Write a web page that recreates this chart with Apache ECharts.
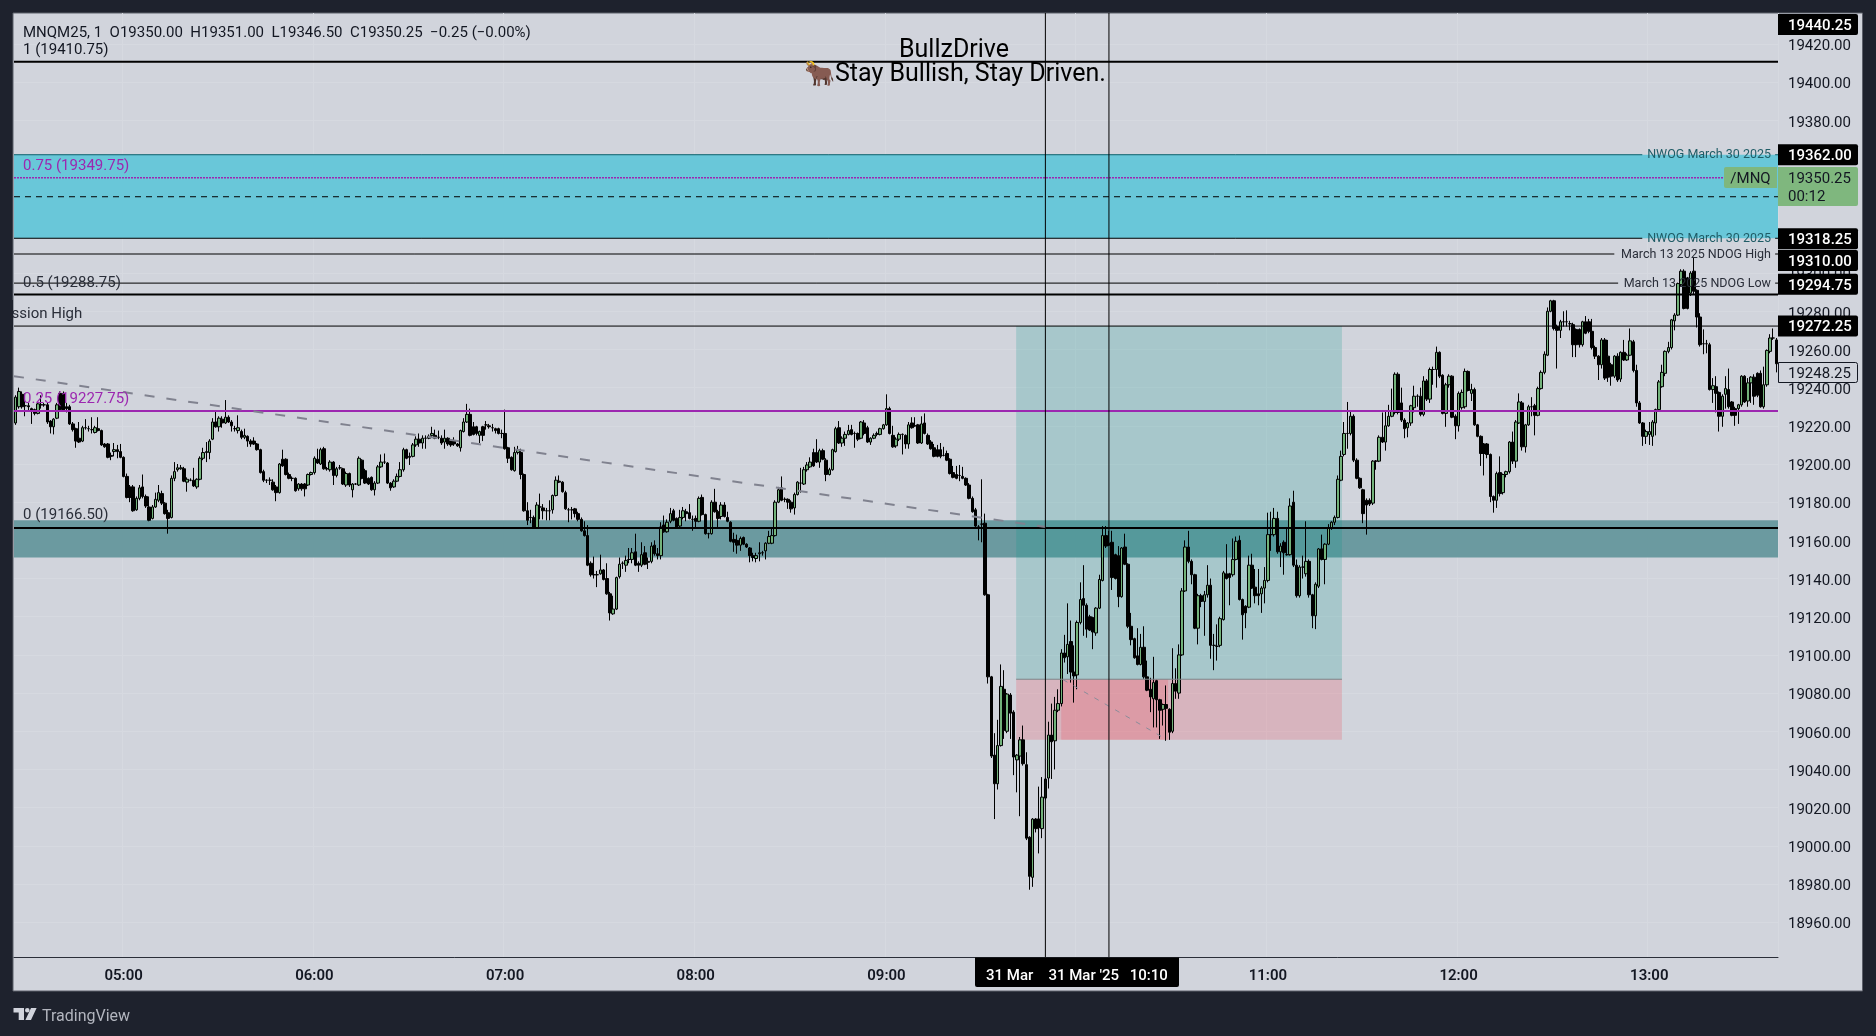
<!DOCTYPE html>
<html>
<head>
<meta charset="utf-8">
<title>MNQM25 1m</title>
<style>html,body{margin:0;padding:0;background:#1e222d}#chart{width:1876px;height:1036px}</style>
<script src="https://cdn.jsdelivr.net/npm/echarts@6/dist/echarts.min.js"></script>
</head>
<body>
<div id="chart"></div>
<script>
// 1 minute bars, [open, close, low, high]
const bars0426 = [
[19221.5,19235,19220.5,19236],[19230,19238,19229,19240],[19236.5,19230,19229,19238],[19230.5,19230.5,19225,19237],[19230.5,19230,19227.5,19232],
[19229,19227.5,19221,19229.5],[19228.5,19226.5,19225.5,19229],[19226.5,19231.5,19226,19232],[19231,19231,19229,19236],[19231,19231,19230,19232],
[19231,19222,19221,19232],[19222.5,19219.5,19216,19223],[19219.5,19223.5,19215.5,19224],[19224,19231,19223.5,19232],[19237,19228.5,19228,19238],
[19237,19228,19227.5,19238],[19230,19229,19227,19232],[19230,19221,19220.5,19231],[19221,19218,19217,19222],[19218.5,19212,19208.5,19219],
[19213.5,19211.5,19211,19222],[19212,19219,19211.5,19220],[19219,19219,19218,19223.5],[19218.5,19218.5,19217,19220],[19218,19218,19216,19224.5],
[19216.5,19219,19216,19220],[19218.5,19217.5,19217,19224.5],[19217.5,19210,19209.5,19218],[19210.5,19209,19208.5,19211],[19210.5,19203.5,19203,19211],
[19204.5,19204,19202,19206],[19206.5,19207.5,19204,19211],[19207.5,19206.5,19203,19210],[19206.5,19203.5,19203,19210.5]
];
const bars0500 = [
[19203.5,19193.5,19193,19204],[19193.5,19182.5,19182,19195],[19188,19182.5,19180,19189],[19188,19175.5,19175,19189],[19176,19182,19175.5,19183],
[19182,19187.5,19181,19189],[19188,19183,19182,19194.5],[19183,19178,19177,19184],[19177.5,19170.5,19170,19183],[19171.5,19177.5,19171,19178.5],
[19177.5,19181.5,19177,19185],[19181,19185,19180,19189],[19184.5,19179.5,19178.5,19186],[19179.5,19174,19173.5,19180],[19174.5,19171.5,19163.5,19176],
[19172,19192.5,19171.5,19194],[19192.5,19196,19191,19201],[19197,19198,19196,19200],[19197.5,19198,19197,19199.5],[19197.5,19191,19190.5,19198.5],
[19190.5,19192,19185.5,19193],[19191.5,19191.5,19191,19192.5],[19191.5,19188.5,19188,19198],[19188,19192,19187,19192.5],[19192,19203,19191.5,19204],
[19203,19206,19202,19208.5],[19206,19206.5,19201,19211.5],[19206,19212,19202.5,19213],[19213,19222,19212.5,19224],[19222,19219.5,19219,19227.5],
[19219.5,19224,19217,19225],[19223.5,19221.5,19219,19225],[19221.5,19224.5,19221,19233.5],[19224.5,19222,19221.5,19225.5],[19222,19220,19217,19223],
[19218.5,19218.5,19217,19220],[19217.5,19219,19216,19225.5],[19217,19214,19213,19218],[19214,19215,19213,19218.5],[19214.5,19212,19209,19215],
[19212,19210.5,19209,19213],[19212,19210.5,19210,19214],[19210.5,19207.5,19207,19211],[19207.5,19195.5,19195,19208],[19196,19191.5,19190.5,19197],
[19191.5,19191.5,19190,19192],[19191.5,19191.5,19189,19193],[19190.5,19186.5,19186,19192],[19188,19185,19180.5,19189],[19185,19200,19184.5,19200.5],
[19202.5,19199,19198.5,19207.5],[19202.5,19194.5,19194,19203],[19194.5,19192.5,19192,19195.5],[19192.5,19192.5,19191,19193.5],[19192.5,19186,19185.5,19193],
[19187,19189.5,19186,19190],[19189.5,19187,19186,19190],[19189.5,19187,19183,19190],[19189,19194.5,19188.5,19195],[19194.5,19195.5,19194,19196]
];
const bars0600 = [
[19195.5,19203,19194.5,19204],[19202.5,19200.5,19200,19208],[19200,19207.5,19199.5,19208.5],[19208,19197.5,19197,19209],[19197.5,19197.5,19196.5,19198.5],
[19197,19201,19196,19202],[19201,19194,19189,19201.5],[19194,19197.5,19193,19198.5],[19198,19198,19197,19199.5],[19197.5,19189.5,19189,19198],
[19189,19195,19188,19196],[19195,19189,19188,19195.5],[19186.5,19189.5,19182.5,19190],[19189.5,19189.5,19189,19190],[19189,19203,19188.5,19204],
[19202,19192.5,19192,19202.5],[19196.5,19190,19189.5,19197.5],[19192.5,19189.5,19189,19193],[19193,19186.5,19186,19193.5],[19186.5,19190,19183.5,19191],
[19190,19198.5,19189.5,19199.5],[19198.5,19201,19198,19205],[19201,19201,19200,19205.5],[19200.5,19190,19189.5,19201],[19190,19187.5,19186,19190.5],
[19188,19191,19187.5,19192],[19191,19193.5,19190.5,19195],[19193.5,19197,19193,19201],[19197,19207.5,19196,19208.5],[19207.5,19203,19202.5,19208],
[19204,19203.5,19199.5,19206],[19204,19210,19203.5,19211],[19210,19213,19209,19214.5],[19213,19211,19209,19216],[19211,19213.5,19208,19215],
[19213.5,19213.5,19208,19215],[19213.5,19214.5,19213,19215.5],[19215,19216,19214,19219.5],[19215,19213.5,19213,19218],[19214,19214,19213,19217.5],
[19213.5,19211,19210,19215],[19211.5,19213.5,19208,19218],[19213.5,19210.5,19209.5,19214],[19212.5,19210,19209,19213],[19212,19210.5,19209.5,19214],
[19210.5,19209.5,19209,19211],[19208.5,19217.5,19206.5,19218],[19217,19222,19216.5,19224],[19222,19226,19221.5,19231.5],[19226,19215,19214.5,19229],
[19219.5,19215.5,19215,19222],[19219.5,19216,19215,19220],[19215,19217,19211,19217.5],[19219.5,19215,19212,19220],[19220.5,19220.5,19218,19222.5],
[19220,19219.5,19218.5,19221],[19219,19219,19217,19221],[19218.5,19217.5,19216,19219],[19218.5,19216,19215.5,19219],[19216,19216,19213.5,19218]
];
const bars0700 = [
[19216,19208,19207.5,19228.5],[19208.5,19203,19200.5,19209],[19203.5,19197,19196.5,19204],[19196.5,19206,19196,19209],[19206,19207.5,19205,19209.5],
[19206,19194.5,19192,19208],[19194.5,19175.5,19175,19195],[19175.5,19170.5,19168,19180],[19172,19172,19169,19176],[19172,19166.5,19166,19173],
[19166.5,19178.5,19166,19180],[19177.5,19177.5,19171,19184.5],[19177,19175.5,19171,19179],[19175.5,19175.5,19170.5,19177],[19175.5,19175.5,19170.5,19181],
[19176,19183.5,19174,19184],[19183.5,19191.5,19183,19193.5],[19191,19190.5,19190,19194],[19190.5,19185.5,19185,19191],[19185,19176.5,19176,19186],
[19176,19176,19169.5,19177],[19176,19176,19171,19177.5],[19176.5,19174,19172,19177],[19174,19171,19170,19175],[19171,19165,19164.5,19172],
[19165,19162.5,19162,19170],[19162.5,19147,19146.5,19168],[19148,19142,19141,19149],[19142,19142,19140,19151.5],[19142,19142,19135.5,19144],
[19142.5,19144.5,19142,19152.5],[19144.5,19139.5,19139,19145],[19140,19132,19131.5,19148],[19132,19122,19118,19133],[19121.5,19124,19121,19131],
[19124,19140.5,19123.5,19141],[19141,19147.5,19140,19151],[19148,19148,19145,19149],[19147,19149.5,19143.5,19152],[19150,19150,19148,19156],
[19150,19153.5,19148,19156],[19154,19147,19146.5,19163.5],[19148,19147,19143.5,19149],[19147,19152.5,19146,19159],[19153.5,19147.5,19147,19157],
[19148.5,19149,19145,19151],[19149,19157,19148,19159],[19157.5,19153,19152,19160],[19153,19152,19150,19156],[19152,19167,19150,19169.5],
[19168,19164.5,19164,19173],[19164.5,19169.5,19164,19171],[19170,19174,19169,19177],[19175.5,19170.5,19170,19176.5],[19171.5,19167,19166,19172],
[19167.5,19172,19167,19176],[19172,19175.5,19171,19177.5],[19175,19174,19170,19176.5],[19174.5,19171.5,19171,19179],[19171,19171,19165,19173]
];
const bars0800 = [
[19171.5,19170,19166,19173],[19170,19182,19169.5,19183],[19182.5,19173.5,19173,19184],[19173.5,19163.5,19163,19174],[19163.5,19163.5,19161,19164],
[19163.5,19180,19163,19181],[19180,19175,19174.5,19187],[19175,19171.5,19167,19176],[19172.5,19178.5,19171,19180],[19178.5,19172.5,19172,19180],
[19172,19170,19169.5,19175],[19169.5,19159.5,19159,19170],[19160.5,19159,19154,19164],[19160,19157.5,19153,19163],[19157.5,19161,19154.5,19162],
[19161.5,19158,19157.5,19162],[19158,19156.5,19156,19158.5],[19156,19152,19148.5,19156.5],[19152,19151,19149,19153.5],[19150.5,19152,19148.5,19153.5],
[19153,19153.5,19149,19159],[19153.5,19153.5,19152,19154.5],[19154.5,19158.5,19150,19159],[19158.5,19162,19158,19165],[19158.5,19162.5,19158,19166],
[19162.5,19180,19162,19181],[19180,19186.5,19179.5,19188],[19187.5,19181,19180.5,19193.5],[19181.5,19181.5,19180,19182.5],[19181.5,19180,19176.5,19182],
[19180,19176.5,19174.5,19181],[19177,19184,19173.5,19185],[19184,19190.5,19183.5,19191],[19190,19190,19185,19198],[19189.5,19197,19189,19198.5],
[19197,19199.5,19196,19201],[19198.5,19201,19198,19203.5],[19206,19199,19198.5,19208],[19206,19201,19200.5,19213],[19201,19207,19198,19208],
[19207,19202.5,19202,19208],[19202,19194.5,19191,19203],[19194.5,19197,19194,19198],[19197,19207.5,19196.5,19208],[19206.5,19218.5,19206,19219.5],
[19219,19211,19210.5,19222.5],[19211,19213.5,19209,19214.5],[19213.5,19215.5,19209.5,19217],[19215.5,19217.5,19215,19220.5],[19218,19215.5,19215,19220.5],
[19216,19216,19208.5,19217],[19216,19213,19212,19216.5],[19213.5,19222,19213,19222.5],[19221.5,19216,19215,19223],[19219,19211.5,19211,19220],
[19211.5,19213.5,19210,19214],[19213.5,19215,19213,19216],[19215.5,19216,19214.5,19217],[19215.5,19218.5,19215,19219],[19218.5,19220.5,19218,19221]
];
const bars0900 = [
[19220.5,19229,19220,19236.5],[19229,19216,19215.5,19230],[19215,19209,19208.5,19220],[19209.5,19213,19208.5,19214],[19213,19215.5,19212,19216.5],
[19215.5,19215.5,19205,19216],[19215,19210.5,19208,19215.5],[19210.5,19220.5,19208,19222],[19221.5,19219,19218.5,19224.5],[19220,19220,19219.5,19224.5],
[19220.5,19211,19210.5,19221],[19211,19221,19210.5,19225],[19221.5,19216,19215.5,19226.5],[19215,19210.5,19210,19216],[19211.5,19208,19207.5,19212.5],
[19208.5,19204,19203.5,19210.5],[19207.5,19204,19203.5,19210],[19207.5,19204,19203,19211],[19204.5,19204.5,19204,19209],[19205.5,19202,19201.5,19207],
[19202.5,19195,19194.5,19203],[19195.5,19193,19192.5,19199],[19194.5,19192.5,19192,19199],[19194,19194,19191,19199.5],[19193.5,19192.5,19192,19198.5],
[19192.5,19189,19188.5,19193],[19189,19182,19181.5,19190],[19182,19175,19174.5,19183],[19176,19167.5,19167,19177],[19167,19167,19160,19168],
[19168.5,19168.5,19159,19192],[19169,19131.5,19131,19174],[19131.5,19088.5,19085,19132],[19088.5,19047,19046,19089],[19047.5,19032.5,19014,19059],
[19032.5,19052.5,19029.5,19066],[19052.5,19083.5,19052,19095],[19082,19060.5,19056,19092],[19060,19079.5,19059,19080],[19079,19069.5,19056,19080],
[19070,19046.5,19037,19071],[19045,19047.5,19028,19048],[19047,19055.5,19015.5,19057],[19055.5,19043,19042,19063],[19042.5,19004,19003,19049],
[19004.5,18984,18977,19005],[18983.5,19014,18978.5,19014.5],[19014,19009,19007,19014.5],[19014,19009.5,18996,19031],[19009,19025.5,19004,19036],
[19025,19035,19024,19035.5],[19035.5,19058,19030,19065],[19058,19054.5,19035,19074.5],[19055,19071,19040,19078],[19071,19074.5,19070,19082],
[19074.5,19101,19073,19103],[19101,19098.5,19096,19110.5],[19099,19105.5,19090,19127],[19107,19091,19085.5,19118],[19091,19089,19075,19105]
];
const bars1000 = [
[19089.5,19117,19082,19118],[19117,19129,19116,19138],[19129.5,19126,19110,19147],[19126,19113.5,19109,19127],[19120,19113,19112.5,19121],
[19119.5,19112,19103,19120],[19111.5,19124.5,19110,19125],[19124.5,19139.5,19124,19142],[19139,19162.5,19138.5,19167.5],[19162.5,19157,19156,19167.5],
[19158.5,19157.5,19157,19165],[19159,19140.5,19134,19165],[19152.5,19140,19139.5,19153],[19152,19130.5,19125,19157],[19130.5,19156,19130,19156.5],
[19156.5,19147.5,19147,19163.5],[19147.5,19115,19114,19148],[19115,19108,19105,19122],[19108.5,19098.5,19098,19109],[19099.5,19095,19094.5,19114],
[19095,19104,19094.5,19111],[19104,19088.5,19087.5,19115],[19088.5,19081.5,19081,19097],[19082,19078,19070,19088],[19077,19085.5,19062,19099],
[19086.5,19076.5,19062,19087],[19076.5,19071,19056,19077],[19071.5,19074,19063,19074.5],[19074,19072,19055,19084],[19071.5,19059.5,19055.5,19072],
[19060,19085,19059,19103.5],[19085,19081,19077,19093],[19080,19100,19077,19105.5],[19100,19133.5,19099.5,19135],[19133.5,19156.5,19133,19160],
[19156.5,19149,19148,19165],[19149,19142,19137,19150],[19142,19114,19113.5,19142.5],[19114,19131,19105.5,19132],[19131,19128,19125,19132],
[19128,19131.5,19110,19133.5],[19131.5,19136.5,19130,19147],[19136.5,19105,19098,19140],[19105,19105,19092,19111],[19104.5,19104.5,19097,19116],
[19105,19119,19104,19120],[19118.5,19143,19118,19144],[19142.5,19140,19139.5,19158],[19142.5,19140.5,19126,19143],[19142,19150,19141,19161],
[19150,19159.5,19149.5,19162],[19160,19129,19128.5,19162.5],[19129,19121,19108,19129.5],[19125.5,19122,19114,19126],[19125,19147,19124.5,19152],
[19147,19135,19134.5,19153],[19135.5,19131,19127,19145],[19132,19131,19126,19145],[19132,19135,19122,19136],[19135,19139,19127,19146]
];
const bars1100 = [
[19139,19163,19138,19174.5],[19163,19163,19154.5,19175],[19163,19171.5,19162,19177],[19171.5,19154,19153,19175],[19154,19157,19146,19158.5],
[19159,19153.5,19142,19160],[19152.5,19152.5,19152,19167],[19152.5,19178,19152,19182],[19180,19147,19146,19186],[19147,19131,19130,19150],
[19131,19146,19130,19147],[19146,19146,19140,19152],[19142.5,19149,19141,19170],[19149,19131.5,19130,19150],[19131.5,19120.5,19114,19132],
[19120.5,19137,19113.5,19138],[19136,19155.5,19135,19156],[19155.5,19150,19149.5,19163],[19150,19158,19137,19158.5],[19158,19166.5,19157.5,19168.5],
[19166.5,19169.5,19165.5,19170],[19169.5,19172,19168,19173],[19172,19192,19171.5,19194],[19191.5,19204,19191,19207],[19205,19216,19204,19222],
[19216,19216,19208,19232.5],[19216,19225,19215,19228],[19225,19202,19201,19226],[19202,19192.5,19192,19203],[19192.5,19187.5,19187,19193],
[19186.5,19174,19169,19187],[19181,19178.5,19163,19182],[19181,19179,19178,19182],[19179.5,19201.5,19178.5,19202],[19201.5,19201.5,19197,19202],
[19201.5,19214,19201,19215],[19214,19211.5,19211,19227],[19211.5,19220,19207,19228],[19220,19225,19219.5,19231],[19225,19227.5,19224.5,19239.5],
[19227,19247,19226,19248],[19247,19227,19226,19248],[19232,19223,19222,19240],[19223,19218.5,19213.5,19224],[19219,19221.5,19214,19222],
[19221.5,19230.5,19220,19231],[19229.5,19235.5,19227,19241],[19235.5,19235.5,19230,19236.5],[19235.5,19226,19225,19240],[19226,19243.5,19225,19246],
[19243.5,19234,19233,19244.5],[19234,19249.5,19232,19250.5],[19249.5,19249.5,19241.5,19251],[19249.5,19258.5,19240,19261.5],[19258.5,19246,19245,19259],
[19246.5,19226.5,19226,19247],[19226.5,19241.5,19219.5,19242.5],[19241.5,19246,19240,19247],[19246,19224.5,19224,19246.5],[19225,19220,19213,19226]
];
const bars1200 = [
[19220,19237,19217,19238],[19229.5,19237.5,19228.5,19239],[19230,19248.5,19229,19250],[19248.5,19238.5,19238,19249],[19237,19239,19233,19242],
[19239,19220.5,19220,19240],[19220.5,19214.5,19214,19221],[19214.5,19205.5,19199,19215],[19210.5,19205.5,19194,19211],[19210.5,19205,19203,19211],
[19205,19183,19180,19205.5],[19183,19181,19174.5,19183.5],[19181,19195,19177,19196],[19195.5,19184.5,19183,19204],[19185,19194.5,19184,19195],
[19194.5,19196,19193,19196.5],[19196,19211.5,19195,19212],[19211.5,19201.5,19200,19217],[19201.5,19222,19198,19223],[19221.5,19232.5,19221,19237],
[19232,19209,19207,19233],[19209,19220.5,19206,19221],[19220.5,19230,19220,19231],[19230,19230,19225,19235],[19230.5,19225.5,19215,19231.5],
[19225.5,19239.5,19225,19240.5],[19239.5,19248,19239,19249],[19248,19257.5,19247,19259],[19257,19280,19256.5,19282],[19280,19285.5,19279.5,19286],
[19285.5,19271,19270,19286],[19272,19270,19250,19273],[19270,19274.5,19266,19275.5],[19274.5,19274.5,19272,19280],[19274.5,19274.5,19272,19280.5],
[19273.5,19273.5,19270,19275],[19273,19262.5,19256,19274],[19270.5,19262.5,19256,19271],[19270.5,19262.5,19261,19271],[19262.5,19274.5,19261.5,19275],
[19274.5,19268.5,19268,19277.5],[19274.5,19269.5,19268.5,19276],[19269.5,19261,19260,19276],[19261,19256.5,19255,19262],[19256.5,19252,19244,19257],
[19252,19265,19250,19266],[19265,19245,19244,19266],[19256.5,19245.5,19243,19265],[19252,19246,19241,19253],[19246,19256.5,19245,19257],
[19256.5,19244,19243,19258],[19244.5,19258.5,19243,19259],[19258.5,19254.5,19254,19265],[19254.5,19257,19254,19258],[19257,19264.5,19256.5,19271],
[19264,19249,19248,19265],[19249,19232,19230,19252],[19232,19221.5,19221,19233],[19221.5,19214.5,19209.5,19222],[19214.5,19217,19210.5,19218]
];
const bars1300 = [
[19215.5,19217,19210,19222],[19214.5,19222,19209.5,19223],[19221.5,19228.5,19215,19229],[19228.5,19243,19227.5,19244],[19240.5,19248,19240,19252],
[19247.5,19259,19246,19259.5],[19259,19261,19258,19264],[19261,19275.5,19260,19276],[19275,19278,19270,19279],[19278,19294.5,19277.5,19295],
[19294,19301,19293,19302],[19301,19281.5,19281,19302],[19297.5,19281.5,19281,19298],[19289.5,19300,19288,19301],[19301,19290.5,19289,19308.5],
[19291,19277,19271.5,19291.5],[19277,19262.5,19261.5,19279],[19263,19263,19257.5,19270.5],[19263,19263,19258,19265],[19262.5,19239,19238.5,19263.5],
[19239,19241,19232,19245],[19240.5,19237,19227,19246],[19237.5,19225,19217,19238],[19225,19235.5,19219.5,19236.5],[19236.5,19239.5,19229,19246],
[19239,19230,19229,19250],[19232.5,19225.5,19225,19233],[19229,19225.5,19220,19230],[19229,19231,19221,19231.5],[19231,19246,19230,19246.5],
[19246,19232.5,19232,19246.5],[19233,19242.5,19230,19245],[19242.5,19245.5,19232,19246],[19245.5,19235.5,19231,19247],[19247.5,19236,19235,19248],
[19247.5,19230,19229.5,19249],[19230,19241.5,19229,19251],[19241.5,19259.5,19240.5,19260],[19259,19266,19258,19268],[19266,19266,19265,19271],
[19265,19252.5,19248,19266]
];
const candleBars = [...bars0426, ...bars0500, ...bars0600, ...bars0700, ...bars0800, ...bars0900, ...bars1000, ...bars1100, ...bars1200, ...bars1300];

const firstMinute = 4 * 60 + 26;
const pad = n => String(n).padStart(2, '0');
const timeLabels = candleBars.map((_, i) => {
  const m = firstMinute + i;
  return pad(Math.floor(m / 60)) + ':' + pad(m % 60);
});
const isHour = (i) => (firstMinute + i) % 60 === 0;
const priceTicks = [18960, 18980, 19000, 19020, 19040, 19060, 19080, 19100, 19120, 19140, 19160, 19180, 19200, 19220, 19240, 19260, 19280, 19300, 19320, 19340, 19360, 19380, 19400, 19420];

const PRICE_MIN = 18941.75, PRICE_MAX = 19436.25;
const X0 = -0.5, X1 = 554.5;

// [x from, x to, top price, bottom price]
const bandRows = [
  [X0, X1, 19362, 19318.25],
  [X0, X1, 19170.5, 19151],
  [314.8, 417.3, 19272.25, 19087.25],
  [314.8, 417.3, 19087.25, 19055.5],
  [329, 362.6, 19087.25, 19055.5]
];
const bandColors = ['#69c7d9', '#6b9aa0', 'rgba(0,150,136,0.2)', 'rgba(242,54,69,0.2)', 'rgba(242,54,69,0.2)'];

// [x from, x to, price, color, width, line type]
const levelRows = [
  [X0, X1, 19410.75, '#000', 2, 'solid'],
  [X0, 511.8, 19362, '#0b5f6b', 1, 'solid'],
  [553.6, X1, 19362, '#0b5f6b', 1, 'solid'],
  [X0, X1, 19350, '#9c27b0', 1.5, [2, 1]],
  [X0, X1, 19340, '#000', 1, [6, 5]],
  [X0, 511.8, 19318.25, '#000', 1, 'solid'],
  [553.6, X1, 19318.25, '#000', 1, 'solid'],
  [X0, 503, 19310, '#000', 1, 'solid'],
  [553.6, X1, 19310, '#000', 1, 'solid'],
  [X0, 504.2, 19294.75, '#000', 1, 'solid'],
  [553.6, X1, 19294.75, '#000', 1, 'solid'],
  [X0, X1, 19288.75, '#000', 2, 'solid'],
  [X0, X1, 19272.25, '#000', 1, 'solid'],
  [X0, X1, 19227.75, '#9c27b0', 2, 'solid'],
  [X0, X1, 19166.5, '#000', 2, 'solid'],
  [314.8, 417.3, 19087.25, '#7f8488', 1, 'solid']
];
const crosshairIndex = [324, 344];
const trendA = [[X0, 19246], [324, 19167]];
const trendB = [[329.6, 19087], [362.3, 19055.5]];

const FONT = 'Roboto, sans-serif';
const chart = echarts.init(document.getElementById('chart'));

const lineSeries = (data, color, width, type, z) => ({
  type: 'line', xAxisIndex: 1, yAxisIndex: 0, data, symbol: 'none', silent: true, animation: false, z,
  lineStyle: { color, width, type }
});

chart.setOption({
  animation: false,
  backgroundColor: '#1e222d',
  grid: { left: 14, right: 98, top: 13, bottom: 79, containLabel: false },
  xAxis: [
    {
      type: 'category', data: timeLabels, boundaryGap: true,
      axisLine: { show: true, onZero: false, lineStyle: { color: '#2a2e39', width: 1 } },
      axisTick: { show: false },
      axisLabel: { interval: (i) => isHour(i), color: '#131722', fontFamily: FONT, fontSize: 15, fontWeight: 600, margin: 12, hideOverlap: false },
      splitLine: { show: true, interval: (i) => isHour(i), lineStyle: { color: '#d6d9e0', width: 1 } }
    },
    { type: 'value', min: X0, max: X1, show: false, splitLine: { show: false } }
  ],
  yAxis: {
    type: 'value', position: 'right', min: PRICE_MIN, max: PRICE_MAX, scale: true,
    axisLine: { show: false },
    axisTick: { show: false, customValues: priceTicks },
    axisLabel: {
      customValues: priceTicks, margin: 10,
      formatter: (v) => '{p|' + v.toFixed(2) + '}',
      rich: { p: { color: '#131722', fontFamily: FONT, fontSize: 15, padding: [5, 0, 0, 0] } }
    },
    splitLine: { show: true, lineStyle: { color: '#d6d9e0', width: 1 } }
  },
  series: [
    {
      type: 'custom', xAxisIndex: 1, yAxisIndex: 0, silent: true, z: 1, data: bandRows,
      encode: { x: [0, 1], y: [2, 3] },
      renderItem: (params, api) => {
        const a = api.coord([api.value(0), api.value(2)]);
        const b = api.coord([api.value(1), api.value(3)]);
        return { type: 'rect', shape: { x: a[0], y: a[1], width: b[0] - a[0], height: b[1] - a[1] }, style: { fill: bandColors[params.dataIndex] } };
      }
    },
    {
      type: 'candlestick', xAxisIndex: 0, yAxisIndex: 0, data: candleBars, z: 3, barWidth: 3, silent: true,
      itemStyle: { color: '#72b27a', color0: '#000000', borderColor: '#000000', borderColor0: '#000000', borderWidth: 1 }
    },
    ...levelRows.map(r => lineSeries([[r[0], r[2]], [r[1], r[2]]], r[3], r[4], r[5], 4)),
    lineSeries(trendA, '#80828f', 2, [10, 12], 4),
    lineSeries(trendB, '#8a8c9a', 1, [5, 7], 4),
    ...crosshairIndex.map(i => lineSeries([[i, PRICE_MIN], [i, PRICE_MAX]], '#000', 1, 'solid', 5))
  ]
});

// y is the visual middle of the text, Roboto sits a little high on a middle baseline
const txt = (x, y, text, color, size, extra) => ({
  type: 'text', x, y: y + 1.5, z: 110, silent: true,
  style: Object.assign({ text, fill: color, fontSize: size, fontFamily: FONT, textVerticalAlign: 'middle' }, extra || {})
});
const rect = (x, y, w, h, fill, r, z, stroke) => ({
  type: 'rect', shape: { x, y, width: w, height: h, r: r || 0 }, z: z || 100, silent: true,
  style: { fill, stroke: stroke || null, lineWidth: stroke ? 1 : 0 }
});
const priceY = (p) => chart.convertToPixel({ yAxisIndex: 0 }, p);
const blackTag = (y, text) => [
  rect(1778, y - 10.5, 80, 21, '#000', [0, 2, 2, 0]),
  txt(1788, y, text, '#fff', 15, { fontWeight: 500 })
];
const elements = [
  rect(13, 13, 1849.5, 978, '#d1d4dc', 0, -1, '#5d606b'),
  txt(23, 31.5, 'MNQM25, 1  O19350.00  H19351.00  L19346.50  C19350.25  \u22120.25 (\u22120.00%)', '#131722', 15),
  txt(23, 48.5, '1 (19410.75)', '#131722', 15),
  txt(23, 164.5, '0.75 (19349.75)', '#9c27b0', 15),
  txt(23, 281.5, '0.5 (19288.75)', '#2a2e39', 15),
  txt(11.5, 312.5, 'ssion High', '#2a2e39', 15),
  rect(0, 300, 13, 30, '#1e222d', 0, 115),
  txt(23, 397.5, '0.25 (19227.75)', '#9c27b0', 15),
  txt(23, 514, '0 (19166.50)', '#2a2e39', 15),
  txt(954, 49, 'BullzDrive', '#000', 25, { textAlign: 'center' }),
  txt(835, 73, 'Stay Bullish, Stay Driven.', '#000', 25),
  txt(803.5, 74, '\uD83D\uDC02', '#9a5b45', 25),
  txt(1771, 153, 'NWOG March 30 2025', '#1f5c66', 12.5, { textAlign: 'right' }),
  txt(1771, 237, 'NWOG March 30 2025', '#1f5c66', 12.5, { textAlign: 'right' }),
  txt(1771, 253.5, 'March 13 2025 NDOG High', '#2a2e39', 12.5, { textAlign: 'right' }),
  txt(1771, 282.5, 'March 13 2025 NDOG Low', '#2a2e39', 12.5, { textAlign: 'right' }),
  rect(1724, 167, 53, 21, '#7fb77e', [2, 0, 0, 2]),
  txt(1750.5, 177.5, '/MNQ', '#131722', 15, { textAlign: 'center' }),
  rect(1778, 167, 80, 39, '#7fb77e', [0, 2, 2, 0]),
  txt(1788, 178, '19350.25', '#131722', 15),
  txt(1788, 196, '00:12', '#131722', 15),
  rect(1778.5, 362.5, 79, 20, '#d1d4dc', [0, 2, 2, 0], 100, '#131722'),
  txt(1788, 372.5, '19248.25', '#131722', 15),
  // the price tags push each other apart, so these sit off their exact price
  ...blackTag(24.5, '19440.25'),
  ...blackTag(priceY(19362), '19362.00'),
  ...blackTag(238.7, '19318.25'),
  ...blackTag(260.5, '19310.00'),
  ...blackTag(284.3, '19294.75'),
  ...blackTag(priceY(19272.25), '19272.25'),
  rect(975, 957.5, 204, 29.5, '#000', [0, 0, 2, 2]),
  txt(1009.7, 974.5, '31 Mar', '#fff', 15, { textAlign: 'center', fontWeight: 500 }),
  txt(1083.7, 974.5, "31 Mar '25", '#fff', 15, { textAlign: 'center', fontWeight: 500 }),
  txt(1148.7, 974.5, '10:10', '#fff', 15, { textAlign: 'center', fontWeight: 500 }),
  // footer logo and name
  { type: 'polygon', z: 100, silent: true, shape: { points: [[13.5, 1008], [24, 1008], [24, 1020], [18.7, 1020], [18.7, 1012.5], [13.5, 1012.5]] }, style: { fill: '#d1d4dc' } },
  { type: 'circle', z: 100, silent: true, shape: { cx: 27.3, cy: 1010.3, r: 2.3 }, style: { fill: '#d1d4dc' } },
  { type: 'polygon', z: 100, silent: true, shape: { points: [[31, 1008], [36.6, 1008], [31, 1020], [25.4, 1020]] }, style: { fill: '#d1d4dc' } },
  txt(42, 1015, 'TradingView', '#b2b5be', 16)
];
chart.setOption({ graphic: { elements } });
</script>
</body>
</html>
